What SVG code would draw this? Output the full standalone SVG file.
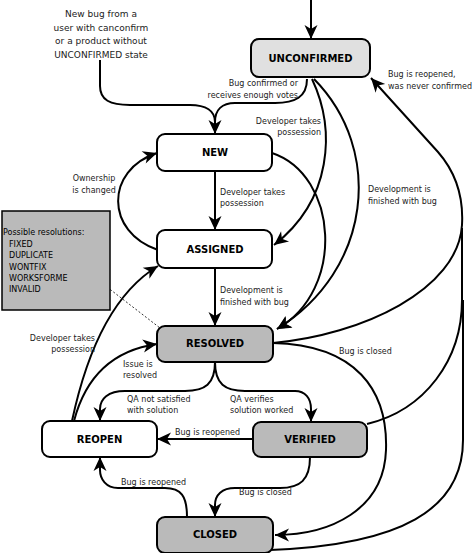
<svg xmlns="http://www.w3.org/2000/svg" width="474" height="553" viewBox="0 0 474 553">
<style>
.bg{fill:#ffffff}
.node{stroke:#000;stroke-width:2}
.white{fill:#ffffff}
.light{fill:#e0e0e0}
.gray{fill:#bababa}
.nl{font-family:"DejaVu Sans",sans-serif;font-size:10px;font-weight:bold;text-anchor:middle;fill:#000}
.el{font-family:"DejaVu Sans",sans-serif;font-size:8px;fill:#222}
.c{fill:none;stroke:#000;stroke-width:2}
.dot{fill:none;stroke:#333;stroke-width:1;stroke-dasharray:2,2}
</style>
<defs>
<marker id="ah" viewBox="-15 -8 16 16" refX="0" refY="0" markerWidth="16" markerHeight="16" markerUnits="userSpaceOnUse" orient="auto">
<path d="M0,0 L-14,-6.5 L-10,0 L-14,6.5 Z" fill="#000"/>
</marker>
</defs>
<rect class="bg" x="0" y="0" width="474" height="553"/>

<g id="connectors">
<path class="c" d="M311,0 L311,39" marker-end="url(#ah)"/>
<path class="c" d="M100,60 L100,86 C100,100 110,105 130,105 L190,105 C206,105 215,111 215,122 L215,134" marker-end="url(#ah)"/>
<path class="c" d="M307,79 C307,97 295,103 275,103 L235,103 C222,103 215,110 215,122 L215,134"/>
<path class="c" d="M312,79 C336,130 332,200 274,245" marker-end="url(#ah)"/>
<path class="c" d="M314,79 C384,150 372,270 277,329" marker-end="url(#ah)"/>
<path class="c" d="M272,153 C338,175 346,290 277,329" marker-end="url(#ah)"/>
<path class="c" d="M215,171 L215,230" marker-end="url(#ah)"/>
<path class="c" d="M215,268 L215,326" marker-end="url(#ah)"/>
<path class="c" d="M158,250 C105,232 105,170 157,153" marker-end="url(#ah)"/>
<path class="c" d="M72,421 C85,360 110,295 158,266" marker-end="url(#ah)"/>
<path class="c" d="M74,421 C86,375 115,350 157,344" marker-end="url(#ah)"/>
<path class="c" d="M215,362 C215,384 205,391 185,391 L125,391 C108,391 100,399 100,409 L100,421" marker-end="url(#ah)"/>
<path class="c" d="M215,362 C215,384 225,391 245,391 L295,391 C305,391 311,398 311,409 L311,422" marker-end="url(#ah)"/>
<path class="c" d="M253,439 L157,439" marker-end="url(#ah)"/>
<path class="c" d="M310,457 C310,480 300,488 280,488 L235,488 C222,488 215,495 215,505 L215,517" marker-end="url(#ah)"/>
<path class="c" d="M187,517 C187,496 181,488 165,488 L118,488 C106,488 100,479 100,470 L100,457" marker-end="url(#ah)"/>
<path class="c" d="M273,343 C356,345 388,390 386,450 C384,510 330,535 275,535" marker-end="url(#ah)"/>
<path class="c" d="M273,343 C362,335 458,290 462,225 C464,190 452,168 438,152 L371,78" marker-end="url(#ah)"/>
<path class="c" d="M367,424 C425,410 462,360 462,300 L462,228"/>
<path class="c" d="M270,550 C400,545 463,510 463,440 L463,300"/>
<path class="dot" d="M107,287 L160,328"/>
</g>

<g id="resolutions">
<rect x="2" y="211" width="108" height="99" fill="#bababa" stroke="#000" stroke-width="1.5"/>
<text class="el" x="3" y="235" style="fill:#000">Possible resolutions:</text>
<text class="el" x="9" y="247" style="fill:#000">FIXED</text>
<text class="el" x="9" y="258" style="fill:#000">DUPLICATE</text>
<text class="el" x="9" y="270" style="fill:#000">WONTFIX</text>
<text class="el" x="9" y="281" style="fill:#000">WORKSFORME</text>
<text class="el" x="9" y="292" style="fill:#000">INVALID</text>
</g>

<g id="UNCONFIRMED">
<rect class="node light" x="251" y="39" width="119" height="38" rx="8"/>
<text class="nl" x="310.5" y="62">UNCONFIRMED</text>
</g>
<g id="NEW">
<rect class="node white" x="157" y="134" width="115" height="37" rx="8"/>
<text class="nl" x="215" y="156">NEW</text>
</g>
<g id="ASSIGNED">
<rect class="node white" x="157" y="230" width="115" height="38" rx="8"/>
<text class="nl" x="215" y="253">ASSIGNED</text>
</g>
<g id="RESOLVED">
<rect class="node gray" x="157" y="326" width="116" height="36" rx="8"/>
<text class="nl" x="215" y="347">RESOLVED</text>
</g>
<g id="REOPEN">
<rect class="node white" x="42" y="421" width="115" height="36" rx="8"/>
<text class="nl" x="99.5" y="443">REOPEN</text>
</g>
<g id="VERIFIED">
<rect class="node gray" x="253" y="422" width="114" height="35" rx="8"/>
<text class="nl" x="310" y="443">VERIFIED</text>
</g>
<g id="CLOSED">
<rect class="node gray" x="157" y="517" width="116" height="36" rx="8"/>
<text class="nl" x="215" y="538">CLOSED</text>
</g>

<g id="labels">
<text class="el" style="font-size:9px;text-anchor:middle" x="101" y="17">New bug from a</text>
<text class="el" style="font-size:9px;text-anchor:middle" x="101" y="31">user with canconfirm</text>
<text class="el" style="font-size:9px;text-anchor:middle" x="101" y="44">or a product without</text>
<text class="el" style="font-size:9px;text-anchor:middle" x="101" y="58">UNCONFIRMED state</text>
<text class="el" style="text-anchor:end" x="298" y="86">Bug confirmed or</text>
<text class="el" style="text-anchor:end" x="298" y="98">receives enough votes</text>
<text class="el" x="388" y="77">Bug is reopened,</text>
<text class="el" x="388" y="89">was never confirmed</text>
<text class="el" style="text-anchor:end" x="321" y="124">Developer takes</text>
<text class="el" style="text-anchor:end" x="321" y="135">possession</text>
<text class="el" x="368" y="192">Development is</text>
<text class="el" x="368" y="204">finished with bug</text>
<text class="el" style="text-anchor:middle" x="94" y="181">Ownership</text>
<text class="el" style="text-anchor:middle" x="94" y="193">is changed</text>
<text class="el" x="220" y="195">Developer takes</text>
<text class="el" x="220" y="206">possession</text>
<text class="el" x="220" y="293">Development is</text>
<text class="el" x="220" y="305">finished with bug</text>
<text class="el" style="text-anchor:end" x="95" y="341">Developer takes</text>
<text class="el" style="text-anchor:end" x="95" y="352">possession</text>
<text class="el" x="123" y="367">Issue is</text>
<text class="el" x="123" y="378">resolved</text>
<text class="el" x="339" y="354">Bug is closed</text>
<text class="el" x="127" y="402">QA not satisfied</text>
<text class="el" x="127" y="413">with solution</text>
<text class="el" x="230" y="402">QA verifies</text>
<text class="el" x="230" y="413">solution worked</text>
<text class="el" x="175" y="435">Bug is reopened</text>
<text class="el" x="121" y="485">Bug is reopened</text>
<text class="el" x="239" y="495">Bug is closed</text>
</g>
</svg>
